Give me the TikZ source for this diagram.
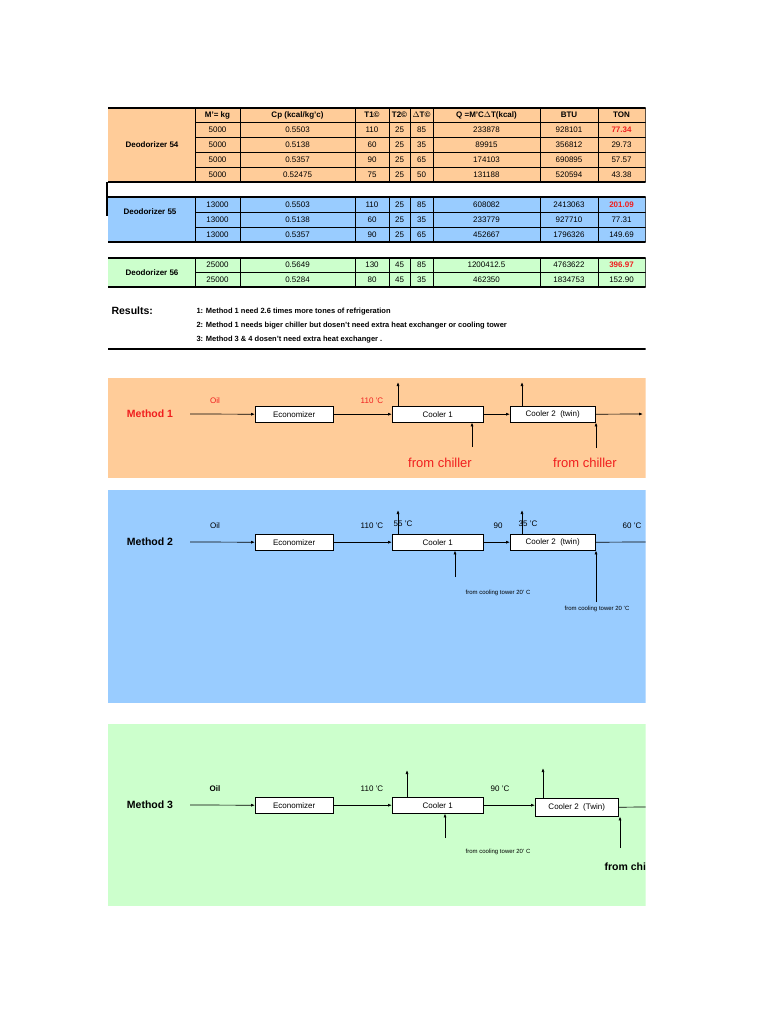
\documentclass[tikz,border=0pt]{standalone}
\usepackage{fontspec}
\setmainfont{Liberation Sans}
\usetikzlibrary{arrows.meta}
\definecolor{por}{RGB}{255,204,153}
\definecolor{pbl}{RGB}{153,204,255}
\definecolor{pgr}{RGB}{204,255,204}
\definecolor{rd}{RGB}{240,30,30}
\begin{document}
\begin{tikzpicture}[x=1pt,y=-1pt,
 box/.style={draw,fill=white,minimum height=16,inner sep=2pt,anchor=north west,text height=7,font=\fontsize{8}{9}\selectfont},
 lab/.style={font=\fontsize{8}{9}\selectfont},
 sm/.style={font=\fontsize{6}{7}\selectfont},
 meth/.style={font=\bfseries\fontsize{10.5}{12}\selectfont},
 flow/.style={-{Latex[length=4pt,width=3pt]},line width=0.7pt},
 cell/.style={font=\fontsize{8}{9}\selectfont}]
\useasboundingbox (0,0) rectangle (768,1024);
\fill[white] (0,0) rectangle (768,1024);
\begin{scope}
\clip (0,0) rectangle (645.5,1024);
% ---------- tables ----------
\fill[por] (108,108) rectangle (646,182);
\fill[pbl] (108,197) rectangle (646,242);
\fill[pgr] (108,258) rectangle (646,287);
\foreach \x in {195,240,355,389,410,433,540,598,645}{
 \draw[line width=0.9pt] (\x,108) -- (\x,182);
 \draw[line width=0.9pt] (\x,197) -- (\x,242);
 \draw[line width=0.9pt] (\x,258) -- (\x,287);}
\draw[line width=1.6pt] (108,108) -- (646,108);
\foreach \y in {122,137,152,167}{\draw[line width=0.6pt] (195,\y) -- (646,\y);}
\draw[line width=1.4pt] (108,182) -- (646,182);
\draw[line width=1.4pt] (108,197) -- (646,197);
\foreach \y in {212,227}{\draw[line width=0.6pt] (195,\y) -- (646,\y);}
\draw[line width=1.4pt] (108,242) -- (646,242);
\draw[line width=1.4pt] (108,258) -- (646,258);
\draw[line width=0.6pt] (195,272) -- (646,272);
\draw[line width=1.4pt] (108,287) -- (646,287);
\draw[line width=1.2pt] (107,182) -- (107,216);
\node[cell,font=\bfseries\fontsize{8}{9}\selectfont] (d54) at (152,145) {Deodorizer 54};
\node[cell,font=\bfseries\fontsize{8}{9}\selectfont] (d55) at (150,212) {Deodorizer 55};
\node[cell,font=\bfseries\fontsize{8}{9}\selectfont] (d56) at (152,273) {Deodorizer 56};
\foreach \t [count=\i] in {M'= kg,Cp (kcal/kg'c),T1©,T2©,$\Delta$T©,Q =M'C$\Delta$T(kcal),BTU,TON}{
 \pgfmathsetmacro\cx{{0,217.5,297.5,372,399.5,421.5,486.5,569,621.5}[\i]}
 \node[cell,font=\bfseries\fontsize{8}{9}\selectfont] (h\i) at (\cx,115) {\t};}
\newcommand\tabrow[9]{%
 \node[cell] at (217.5,#1) {#2};\node[cell] at (297.5,#1) {#3};
 \node[cell] at (372,#1) {#4};\node[cell] at (399.5,#1) {#5};
 \node[cell] at (421.5,#1) {#6};\node[cell] at (486.5,#1) {#7};
 \node[cell] at (569,#1) {#8};\node[cell] at (621.5,#1) {#9};}
\tabrow{129.5}{5000}{0.5503}{110}{25}{85}{233878}{928101}{\textcolor{rd}{\bfseries 77.34}}
\tabrow{144.5}{5000}{0.5138}{60}{25}{35}{89915}{356812}{29.73}
\tabrow{159.5}{5000}{0.5357}{90}{25}{65}{174103}{690895}{57.57}
\tabrow{174.5}{5000}{0.52475}{75}{25}{50}{131188}{520594}{43.38}
\tabrow{204.5}{13000}{0.5503}{110}{25}{85}{608082}{2413063}{\textcolor{rd}{\bfseries 201.09}}
\tabrow{219.5}{13000}{0.5138}{60}{25}{35}{233779}{927710}{77.31}
\tabrow{234.5}{13000}{0.5357}{90}{25}{65}{452667}{1796326}{149.69}
\tabrow{265}{25000}{0.5649}{130}{45}{85}{1200412.5}{4763622}{\textcolor{rd}{\bfseries 396.97}}
\tabrow{279.5}{25000}{0.5284}{80}{45}{35}{462350}{1834753}{152.90}
% ---------- results ----------
\node[anchor=west,font=\bfseries\fontsize{10.5}{12}\selectfont] (res) at (108,311) {Results:};
\node[anchor=west,font=\bfseries\fontsize{7.5}{9}\selectfont] (r1) at (193,312) {1: Method 1 need 2.6 times more tones of refrigeration};
\node[anchor=west,font=\bfseries\fontsize{7.5}{9}\selectfont] (r2) at (193,326) {2: Method 1 needs biger chiller but dosen't need extra heat exchanger or cooling tower};
\node[anchor=west,font=\bfseries\fontsize{7.5}{9}\selectfont] (r3) at (193,340) {3: Method 3 \& 4 dosen't need extra heat exchanger .};
\draw[line width=1.2pt] (108,349) -- (646,349);
% ---------- Method 1 ----------
\fill[por] (108,378) rectangle (646,478);
\node[meth,text=rd] (m1) at (150,414) {Method 1};
\node[lab,text=rd] (oil1) at (215,401) {Oil};
\node[box,minimum width=78] (e1) at (255,406) {Economizer};
\node[box,minimum width=91] (c11) at (392,406) {Cooler 1};
\node[box,minimum width=85] (c21) at (510,406) {Cooler 2\ \ (twin)};
\node[lab,text=rd] (t1) at (372,401) {110 'C};
\coordinate (s1) at (190,414);
\coordinate (o1) at (643,414);
\draw[flow] (s1) -- (e1.west);
\draw[flow] (e1.east) -- (c11.west);
\draw[flow] (c11.east) -- (c21.west);
\draw[flow] (c21.east) -- (o1);
\coordinate (u11) at (398,382); \draw[flow] (c11.north west -| u11) -- (u11);
\coordinate (u21) at (522,382); \draw[flow] (c21.north west -| u21) -- (u21);
\coordinate (f11) at (472,447); \draw[flow] (f11) -- (c11.south east -| f11);
\coordinate (f21) at (596,448); \draw[flow] (f21) -- (c21.south east -| f21);
\node[text=rd,font=\fontsize{13}{15}\selectfont] (fc1) at (440,463) {from chiller};
\node[text=rd,font=\fontsize{13}{15}\selectfont] (fc2) at (585,463) {from chiller};
% ---------- Method 2 ----------
\fill[pbl] (108,490) rectangle (646,703);
\node[meth] (m2) at (150,542) {Method 2};
\node[lab] (oil2) at (215,526) {Oil};
\node[box,minimum width=78] (e2) at (255,534) {Economizer};
\node[box,minimum width=91] (c12) at (392,534) {Cooler 1};
\node[box,minimum width=85] (c22) at (510,534) {Cooler 2\ \ (twin)};
\node[lab] at (372,526) {110 'C};
\node[lab] at (498,526) {90};
\node[lab] at (632,526) {60 'C};
\node[lab] at (403,524) {55 'C};
\node[lab] at (528,524) {35 'C};
\coordinate (s2) at (190,542);
\coordinate (o2) at (646,542);
\draw[flow] (s2) -- (e2.west);
\draw[flow] (e2.east) -- (c12.west);
\draw[flow] (c12.east) -- (c22.west);
\draw[line width=0.7pt] (c22.east) -- (o2);
\coordinate (u12) at (398,510); \draw[flow] (c12.north west -| u12) -- (u12);
\coordinate (u22) at (522,510); \draw[flow] (c22.north west -| u22) -- (u22);
\coordinate (f12) at (455,577); \draw[flow] (f12) -- (c12.south east -| f12);
\coordinate (f22) at (596,602); \draw[flow] (f22) -- (c22.south east -| f22);
\node[sm] (ct1) at (498,593) {from cooling tower 20' C};
\node[sm] (ct2) at (597,609) {from cooling tower 20 'C};
% ---------- Method 3 ----------
\fill[pgr] (108,724) rectangle (646,906);
\node[meth] (m3) at (150,805) {Method 3};
\node[lab,font=\bfseries\fontsize{8}{9}\selectfont] (oil3) at (215,789) {Oil};
\node[box,minimum width=78] (e3) at (255,797) {Economizer};
\node[box,minimum width=91] (c13) at (392,797) {Cooler 1};
\node[box,minimum width=83,minimum height=18] (c23) at (535,798) {Cooler 2\ \ (Twin)};
\node[lab] at (372,789) {110 'C};
\node[lab] at (500,789) {90 'C};
\coordinate (s3) at (190,805);
\coordinate (o3) at (646,807);
\draw[flow] (s3) -- (e3.west);
\draw[flow] (e3.east) -- (c13.west);
\draw[flow] (c13.east) -- (c23.west |- c13.east);
\draw[line width=0.7pt] (c23.east) -- (o3);
\coordinate (u13) at (407,770); \draw[flow] (c13.north west -| u13) -- (u13);
\coordinate (u23) at (543,768); \draw[flow] (c23.north west -| u23) -- (u23);
\coordinate (f13) at (445,838); \draw[flow] (f13) -- (c13.south east -| f13);
\coordinate (f23) at (620,848); \draw[flow] (f23) -- (c23.south east -| f23);
\node[sm] (ct3) at (498,852) {from cooling tower 20' C};
\node[anchor=west,font=\bfseries\fontsize{10.5}{12}\selectfont] (fc3) at (601,867) {from chiller};
\end{scope}
\end{tikzpicture}
\end{document}
